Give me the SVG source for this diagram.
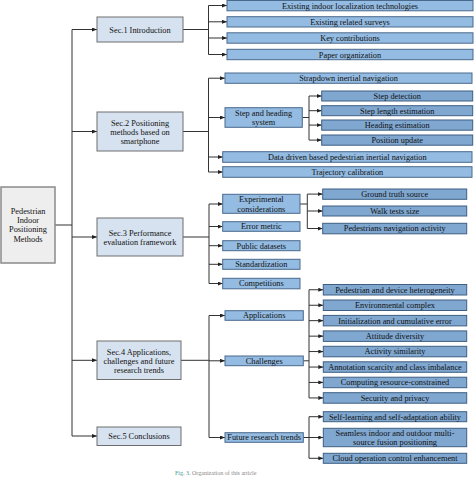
<svg xmlns="http://www.w3.org/2000/svg" width="474" height="477" viewBox="0 0 474 477">
<defs>
<marker id="ah" markerWidth="5" markerHeight="4" refX="5" refY="2" orient="auto" markerUnits="userSpaceOnUse">
<path d="M0,0 L5,2 L0,4 z" fill="#222"/>
</marker>
<style>
.root{fill:#eeeeee;stroke:#8a8a8a;stroke-width:1.5}
.sec{fill:#d6e2ef;stroke:#6e6e6e;stroke-width:1}
.l2{fill:#94bbe2;stroke:#4a6a8c;stroke-width:1}
.l3{fill:#7fa7d0;stroke:#3f5f82;stroke-width:1}
text{font-family:"Liberation Serif","Times New Roman",serif;font-size:8.3px;fill:#111;text-anchor:middle}
.c{stroke:#333;stroke-width:1;fill:none}
.a{stroke:#333;stroke-width:1;fill:none;marker-end:url(#ah)}
</style>
</defs>
<rect width="474" height="477" fill="#ffffff"/>

<g id="connectors">
<path class="c" d="M55,225 H72" stroke-width="2.2"/>
<path class="c" d="M72,29.5 V436"/>
<path class="a" d="M72,29.5 H97"/>
<path class="a" d="M72,131.5 H97"/>
<path class="a" d="M72,237 H97"/>
<path class="a" d="M72,360.3 H97"/>
<path class="a" d="M72,436 H97"/>

<path class="c" d="M183,29.5 H208.5 M208.5,5.5 V54.5"/>
<path class="a" d="M208.5,5.5 H227"/>
<path class="a" d="M208.5,21.8 H227"/>
<path class="a" d="M208.5,38 H227"/>
<path class="a" d="M208.5,54.5 H227"/>

<path class="c" d="M183,131.5 H208.5 M208.5,78.2 V172"/>
<path class="a" d="M208.5,78.2 H225"/>
<path class="a" d="M208.5,117.5 H225"/>
<path class="a" d="M208.5,157 H222.7"/>
<path class="a" d="M208.5,172 H222.7"/>

<path class="c" d="M302.3,117.5 H309 M309,96 V140"/>
<path class="a" d="M309,96 H321.7"/>
<path class="a" d="M309,110.7 H321.7"/>
<path class="a" d="M309,125.1 H321.7"/>
<path class="a" d="M309,140.1 H321.7"/>

<path class="c" d="M183,237 H209 M209,204 V283.5"/>
<path class="a" d="M209,204 H222.7"/>
<path class="a" d="M209,226.5 H222.7"/>
<path class="a" d="M209,245.7 H222.7"/>
<path class="a" d="M209,264.3 H222.7"/>
<path class="a" d="M209,283.5 H222.7"/>

<path class="c" d="M300,204 H307.3 M307.3,194.1 V228.5"/>
<path class="a" d="M307.3,194.1 H322.7"/>
<path class="a" d="M307.3,211 H322.7"/>
<path class="a" d="M307.3,228.5 H322.7"/>

<path class="c" d="M181,360.3 H209 M209,315.5 V437.5"/>
<path class="a" d="M209,315.5 H225"/>
<path class="a" d="M209,360.8 H225"/>
<path class="a" d="M209,437.5 H225"/>

<path class="c" d="M303.3,360.8 H309 M309,289.75 V397.95"/>
<path class="a" d="M309,289.75 H323.3"/>
<path class="a" d="M309,305.25 H323.3"/>
<path class="a" d="M309,320.65 H323.3"/>
<path class="a" d="M309,336.15 H323.3"/>
<path class="a" d="M309,351.55 H323.3"/>
<path class="a" d="M309,367.05 H323.3"/>
<path class="a" d="M309,382.45 H323.3"/>
<path class="a" d="M309,397.95 H323.3"/>

<path class="c" d="M303.3,437.5 H309 M309,416.7 V458.3"/>
<path class="a" d="M309,416.7 H323.3"/>
<path class="a" d="M309,437.5 H323.3"/>
<path class="a" d="M309,458.3 H323.3"/>
</g>

<g id="root"><rect class="root" x="1" y="187" width="54" height="76"/>
<text x="28" y="213.7">Pedestrian</text><text x="28" y="223">Indoor</text><text x="28" y="232.3">Positioning</text><text x="28" y="241.6">Methods</text></g>

<g id="sec1"><rect class="sec" x="97" y="17" width="86" height="25"/><text x="140" y="32.5">Sec.1 Introduction</text></g>
<g id="sec2"><rect class="sec" x="97" y="112" width="86" height="39"/><text x="140" y="125.5">Sec.2 Positioning</text><text x="140" y="134.8">methods based on</text><text x="140" y="144.1">smartphone</text></g>
<g id="sec3"><rect class="sec" x="97" y="218" width="86" height="38"/><text x="140" y="235.5">Sec.3 Performance</text><text x="140" y="245">evaluation framework</text></g>
<g id="sec4"><rect class="sec" x="97" y="341" width="84" height="38.5"/><text x="139" y="354.7">Sec.4 Applications,</text><text x="139" y="364">challenges and future</text><text x="139" y="373.3">research trends</text></g>
<g id="sec5"><rect class="sec" x="97" y="427" width="84" height="18.5"/><text x="139" y="439">Sec.5 Conclusions</text></g>

<g id="n-tech"><rect class="l2" x="227" y="0.5" width="246" height="10.3"/><text x="350" y="8.6">Existing indoor localization technologies</text></g>
<g id="n-surveys"><rect class="l2" x="227" y="16.7" width="246" height="10.3"/><text x="350" y="24.9">Existing related surveys</text></g>
<g id="n-contrib"><rect class="l2" x="227" y="32.8" width="246" height="10.4"/><text x="350" y="41">Key contributions</text></g>
<g id="n-org"><rect class="l2" x="227" y="49.3" width="246" height="10.4"/><text x="350" y="57.5">Paper organization</text></g>

<g id="n-strapdown"><rect class="l2" x="225" y="73" width="247" height="10.3"/><text x="348.5" y="81.2">Strapdown inertial navigation</text></g>
<g id="n-shs"><rect class="l2" x="225" y="107.7" width="77.3" height="19.6"/><text x="263.6" y="116.2">Step and heading</text><text x="263.6" y="125.3">system</text></g>
<g id="n-datadriven"><rect class="l2" x="222.7" y="151.7" width="249.3" height="10.6"/><text x="347.3" y="160">Data driven based pedestrian inertial navigation</text></g>
<g id="n-traj"><rect class="l2" x="222.7" y="166.7" width="249.3" height="10.6"/><text x="347.3" y="175">Trajectory calibration</text></g>

<g id="n-stepdet"><rect class="l3" x="321.7" y="91" width="151" height="10"/><text x="397.2" y="99">Step detection</text></g>
<g id="n-steplen"><rect class="l3" x="321.7" y="105.7" width="151" height="10"/><text x="397.2" y="113.7">Step length estimation</text></g>
<g id="n-heading"><rect class="l3" x="321.7" y="120" width="151" height="10.2"/><text x="397.2" y="128.1">Heading estimation</text></g>
<g id="n-posupd"><rect class="l3" x="321.7" y="135" width="151" height="10.2"/><text x="397.2" y="143.1">Position update</text></g>

<g id="n-exp"><rect class="l2" x="222.7" y="194.3" width="77.3" height="19"/><text x="261.3" y="202.3">Experimental</text><text x="261.3" y="211.6">considerations</text></g>
<g id="n-error"><rect class="l2" x="222.7" y="221.7" width="77.3" height="9.6"/><text x="261.3" y="229.4">Error metric</text></g>
<g id="n-public"><rect class="l2" x="222.7" y="240.7" width="77.3" height="10"/><text x="261.3" y="248.6">Public datasets</text></g>
<g id="n-standard"><rect class="l2" x="222.7" y="259.3" width="77.3" height="10"/><text x="261.3" y="267.2">Standardization</text></g>
<g id="n-compet"><rect class="l2" x="222.7" y="278.3" width="77.3" height="10.5"/><text x="261.3" y="286.4">Competitions</text></g>

<g id="n-ground"><rect class="l3" x="322.7" y="189" width="144" height="10.3"/><text x="394.7" y="197.1">Ground truth source</text></g>
<g id="n-walk"><rect class="l3" x="322.7" y="206" width="144" height="10"/><text x="394.7" y="213.9">Walk tests size</text></g>
<g id="n-pednav"><rect class="l3" x="322.7" y="223.3" width="144" height="10.5"/><text x="394.7" y="231.4">Pedestrians navigation activity</text></g>

<g id="n-apps"><rect class="l2" x="225" y="310.7" width="78.3" height="9.6"/><text x="264.2" y="318.4">Applications</text></g>
<g id="n-chall"><rect class="l2" x="225" y="356" width="78.3" height="9.7"/><text x="264.2" y="363.8">Challenges</text></g>
<g id="n-future"><rect class="l2" x="225" y="432.7" width="78.3" height="9.6"/><text x="264.2" y="440.4">Future research trends</text></g>

<g id="n-hetero"><rect class="l3" x="323.3" y="284.5" width="143.4" height="10.5"/><text x="395" y="292.6">Pedestrian and device heterogeneity</text></g>
<g id="n-env"><rect class="l3" x="323.3" y="300" width="143.4" height="10.5"/><text x="395" y="308.1">Environmental complex</text></g>
<g id="n-init"><rect class="l3" x="323.3" y="315.4" width="143.4" height="10.5"/><text x="395" y="323.5">Initialization and cumulative error</text></g>
<g id="n-attitude"><rect class="l3" x="323.3" y="330.9" width="143.4" height="10.5"/><text x="395" y="339">Attitude diversity</text></g>
<g id="n-activity"><rect class="l3" x="323.3" y="346.3" width="143.4" height="10.5"/><text x="395" y="354.4">Activity similarity</text></g>
<g id="n-annot"><rect class="l3" x="323.3" y="361.8" width="143.4" height="10.5"/><text x="395" y="369.9">Annotation scarcity and class imbalance</text></g>
<g id="n-compute"><rect class="l3" x="323.3" y="377.2" width="143.4" height="10.5"/><text x="395" y="385.3">Computing resource-constrained</text></g>
<g id="n-security"><rect class="l3" x="323.3" y="392.7" width="143.4" height="10.5"/><text x="395" y="400.8">Security and privacy</text></g>

<g id="n-self"><rect class="l3" x="323.3" y="411.7" width="143.4" height="10"/><text x="395" y="419.6">Self-learning and self-adaptation ability</text></g>
<g id="n-seamless"><rect class="l3" x="323.3" y="428.3" width="143.4" height="18.4"/><text x="395" y="436.3">Seamless indoor and outdoor multi-</text><text x="395" y="445.4">source fusion positioning</text></g>
<g id="n-cloud"><rect class="l3" x="323.3" y="453.3" width="143.4" height="10"/><text x="395" y="461.3">Cloud operation control enhancement</text></g>

<g id="caption"><text x="175" y="475.2" style="text-anchor:start;font-size:6px;fill:#888"><tspan fill="#4a9a90">Fig. 3.</tspan> Organization of this article</text></g>
</svg>
